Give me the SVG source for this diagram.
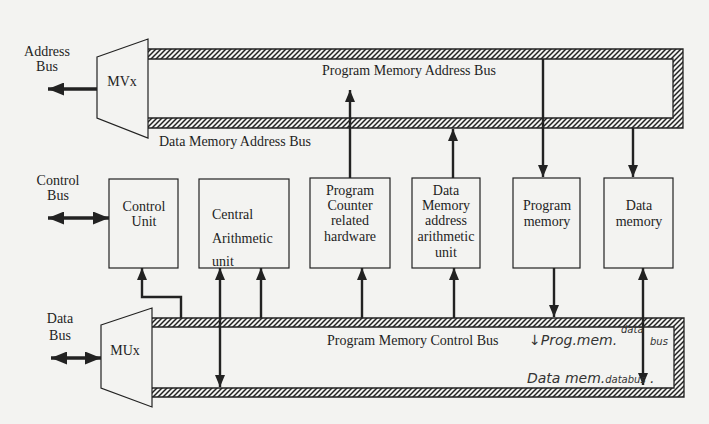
<svg xmlns="http://www.w3.org/2000/svg" width="709" height="424" viewBox="0 0 709 424">
<style>
.t{font-family:"Liberation Serif","Times New Roman",serif;font-size:14px;fill:#1e1e1e}
.m{text-anchor:middle}
.box{fill:none;stroke:#222;stroke-width:1.2}
.mux{fill:#f3f3f1;stroke:#222;stroke-width:1.2}
.bus{fill:url(#hatch);stroke:none}
.edge{fill:none;stroke:#222;stroke-width:1.3}
.v{fill:none;stroke:#222;stroke-width:2.4}
.h{fill:none;stroke:#222;stroke-width:3.6}
.hw{font-family:"DejaVu Sans",sans-serif;font-style:italic;fill:#333}
</style>
<defs>
<pattern id="hatch" width="5" height="5" patternUnits="userSpaceOnUse">
<path d="M-1,1 L1,-1 M0,5 L5,0 M4,6 L6,4" stroke="#222" stroke-width="1.5"/>
</pattern>
<marker id="ah" viewBox="0 0 12 10" refX="12" refY="5" markerWidth="12" markerHeight="10" markerUnits="userSpaceOnUse" orient="auto-start-reverse">
<path d="M0,0 L12,5 L0,10 z" fill="#222"/>
</marker>
<marker id="bh" viewBox="0 0 16 13" refX="16" refY="6.5" markerWidth="16" markerHeight="13" markerUnits="userSpaceOnUse" orient="auto-start-reverse">
<path d="M0,0 L16,6.5 L0,13 z" fill="#222"/>
</marker>
</defs>
<rect width="709" height="424" fill="#f3f3f1"/>

<g id="program-memory-address-bus">
<path class="bus" d="M148,49 H683 V128 H148 V118 H673 V59 H148 Z"/>
<path class="edge" d="M148,49 H683 V128 H148 M148,59 H673 V118 H148"/>
<text class="t" x="322" y="75">Program Memory Address Bus</text>
<text class="t" x="159" y="146">Data Memory Address Bus</text>
</g>

<g id="program-memory-control-bus">
<path class="bus" d="M152,318 H684 V397 H152 V388 H674 V327 H152 Z"/>
<path class="edge" d="M152,318 H684 V397 H152 M152,327 H674 V388 H152"/>
<text class="t" x="327" y="345">Program Memory Control Bus</text>
</g>

<g id="mvx">
<polygon class="mux" points="97,57 148,39 148,138 97,118"/>
<text class="t m" x="122" y="86">MVx</text>
</g>

<g id="mux">
<polygon class="mux" points="101,325 152,308 152,407 101,388"/>
<text class="t m" x="125" y="355">MUx</text>
</g>

<g id="address-bus">
<text class="t m" x="47" y="56">Address</text>
<text class="t m" x="47" y="71">Bus</text>
</g>
<g id="control-bus">
<text class="t m" x="58" y="185">Control</text>
<text class="t m" x="58" y="200">Bus</text>
</g>
<g id="data-bus">
<text class="t m" x="60" y="323">Data</text>
<text class="t m" x="60" y="340">Bus</text>
</g>

<g id="control-unit">
<rect class="box" x="109" y="179" width="69" height="89"/>
<text class="t m" x="144" y="211">Control</text>
<text class="t m" x="144" y="226">Unit</text>
</g>

<g id="central-arithmetic-unit">
<rect class="box" x="199" y="179" width="90" height="89"/>
<text class="t" x="212" y="219">Central</text>
<text class="t" x="212" y="243">Arithmetic</text>
<text class="t" x="212" y="266">unit</text>
</g>

<g id="program-counter">
<rect class="box" x="310" y="178" width="80" height="90"/>
<text class="t m" x="350" y="195">Program</text>
<text class="t m" x="350" y="210">Counter</text>
<text class="t m" x="350" y="225">related</text>
<text class="t m" x="350" y="241">hardware</text>
</g>

<g id="data-memory-address-unit">
<rect class="box" x="412" y="178" width="68" height="90"/>
<text class="t m" x="446" y="195">Data</text>
<text class="t m" x="446" y="210">Memory</text>
<text class="t m" x="446" y="225">address</text>
<text class="t m" x="446" y="241">arithmetic</text>
<text class="t m" x="446" y="257">unit</text>
</g>

<g id="program-memory">
<rect class="box" x="513" y="178" width="67" height="90"/>
<text class="t m" x="547" y="210">Program</text>
<text class="t m" x="547" y="226">memory</text>
</g>

<g id="data-memory">
<rect class="box" x="604" y="178" width="69" height="90"/>
<text class="t m" x="639" y="210">Data</text>
<text class="t m" x="639" y="226">memory</text>
</g>

<g id="connectors">
<path class="h" d="M97,89 H48" marker-end="url(#bh)"/>
<path class="h" d="M109,218 H48" marker-start="url(#bh)" marker-end="url(#bh)"/>
<path class="h" d="M101,358 H51" marker-start="url(#bh)" marker-end="url(#bh)"/>
<path class="v" d="M350,178 V90" marker-end="url(#ah)"/>
<path class="v" d="M453,178 V129" marker-end="url(#ah)"/>
<path class="v" d="M543,59 V177" marker-end="url(#ah)"/>
<path class="v" d="M633,128 V177" marker-end="url(#ah)"/>
<path class="v" d="M181,318 V297 H142 V268" marker-end="url(#ah)"/>
<path class="v" d="M220,268 V387" marker-start="url(#ah)" marker-end="url(#ah)"/>
<path class="v" d="M261,318 V268" marker-end="url(#ah)"/>
<path class="v" d="M362,318 V268" marker-end="url(#ah)"/>
<path class="v" d="M454,318 V268" marker-end="url(#ah)"/>
<path class="v" d="M554,268 V317" marker-end="url(#ah)"/>
<path class="v" d="M643,268 V385" marker-start="url(#ah)" marker-end="url(#ah)"/>
</g>

<g id="annotations">
<text class="hw" x="529" y="345" font-size="14">↓Prog.mem.</text>
<text class="hw" x="621" y="333" font-size="10">data</text>
<text class="hw" x="650" y="345" font-size="10">bus</text>
<text class="hw" x="527" y="383" font-size="14">Data mem.<tspan font-size="10">databus</tspan> .</text>
</g>
</svg>
